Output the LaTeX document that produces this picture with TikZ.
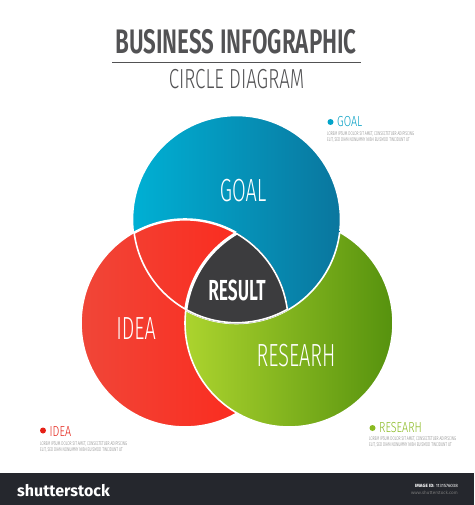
\documentclass[tikz,border=0pt]{standalone}
\usepackage{fontspec}
\setmainfont{Fira Sans}
\newfontfamily\thinfont[FakeStretch=0.62]{Fira Sans Light}
\newfontfamily\widethinfont[FakeStretch=0.68]{Fira Sans Light}
\newfontfamily\keyfont[FakeStretch=0.74]{Fira Sans Light}
\newfontfamily\heavyfont[FakeStretch=0.6]{Fira Sans SemiBold}
\newfontfamily\titlefont[FakeStretch=0.66]{Fira Sans SemiBold}
\definecolor{goalL}{RGB}{0,176,212}
\definecolor{goalR}{RGB}{10,118,158}
\definecolor{ideaL}{RGB}{240,70,56}
\definecolor{ideaR}{RGB}{254,36,24}
\definecolor{resL}{RGB}{172,212,46}
\definecolor{resR}{RGB}{86,146,14}
\definecolor{core}{RGB}{60,60,62}
\definecolor{titlegray}{RGB}{82,82,84}
\definecolor{loremgray}{RGB}{120,120,120}
\definecolor{bar}{RGB}{37,39,45}
\newcommand{\rad}{104}
\newcommand{\loremtext}{LOREM IPSUM DOLOR SIT AMET, CONSECTETUER ADIPISCING\\ELIT, SED DIAM NONUMMY NIBH EUISMOD TINCIDUNT UT}
\begin{document}
\begin{tikzpicture}[x=1pt,y=-1pt,
  circlelabel/.style={text=white,inner sep=0pt,font=\thinfont\fontsize{32}{32}\selectfont},
  whiteedge/.style={draw=white,line width=1.6pt},
  legendtitle/.style={anchor=west,inner sep=0pt,font=\keyfont\fontsize{14.5}{14.5}\selectfont},
  legenddot/.style={circle,inner sep=0pt,minimum size=6pt},
  loremlines/.style={anchor=north west,inner sep=0pt,align=left,text=loremgray,font=\thinfont\fontsize{5.4}{6.2}\selectfont}]
\useasboundingbox (0,0) rectangle (474,505);
\fill[white] (0,0) rectangle (474,505);
% centres of the three circles
\coordinate (goal) at (236.5,219.5);
\coordinate (idea) at (185,323);
\coordinate (research) at (289,323);
% title
\node[text=titlegray,font=\titlefont\fontsize{34}{34}\selectfont] (title) at (236,41.5) {BUSINESS INFOGRAPHIC};
\draw[titlegray,line width=0.9pt] (112,62) -- (361,62);
\node[text=titlegray,font=\widethinfont\fontsize{27.5}{27.5}\selectfont] (subtitle) at (236.5,79.5) {CIRCLE DIAGRAM};
% circles
\shade[left color=goalL,right color=goalR] (goal) circle[radius=\rad];
\draw[whiteedge] (goal) circle[radius=\rad];
\shade[left color=ideaL,right color=ideaR] (idea) circle[radius=\rad];
\draw[whiteedge] (idea) circle[radius=\rad];
\shade[left color=resL,right color=resR] (research) circle[radius=\rad];
\begin{scope}[even odd rule]
\clip (0,0) rectangle (474,505) (goal) circle[radius=\rad];
\draw[whiteedge] (research) circle[radius=\rad];
\end{scope}
\begin{scope}
\clip (research) circle[radius=\rad+1];
\begin{scope}[even odd rule]
\clip (0,0) rectangle (474,505) (idea) circle[radius=\rad-2];
\shade[left color=goalL,right color=goalR] (goal) circle[radius=\rad];
\end{scope}
\end{scope}
\begin{scope}
\clip (research) circle[radius=\rad];
\draw[whiteedge] (goal) circle[radius=\rad];
\end{scope}
% centre part
\begin{scope}
\clip (goal) circle[radius=\rad];
\clip (idea) circle[radius=\rad];
\fill[core] (research) circle[radius=\rad];
\draw[white,line width=3.2pt] (goal) circle[radius=\rad] (idea) circle[radius=\rad] (research) circle[radius=\rad];
\end{scope}
\node[circlelabel] (goallabel) at (243,191) {GOAL};
\node[circlelabel] (idealabel) at (136,329) {IDEA};
\node[circlelabel] (researchlabel) at (296,355.5) {RESEARH};
\node[text=white,inner sep=0pt,font=\heavyfont\fontsize{29}{29}\selectfont] (result) at (237,290) {RESULT};
% legend
\node[legenddot,fill=goalL!80!goalR] (goaldot) at (330.5,122) {};
\node[legendtitle,text=goalL!70!goalR] (goalkey) at (337,122) {GOAL};
\node[loremlines] (goallorem) at (327,131.5) {\loremtext};
\node[legenddot,fill=ideaR!90!black] (ideadot) at (43,430.5) {};
\node[legendtitle,text=ideaR!90!black] (ideakey) at (49.5,431.5) {IDEA};
\node[loremlines] (idealorem) at (40,441.5) {\loremtext};
\node[legenddot,fill=resL!60!resR] (researchdot) at (372.5,428) {};
\node[legendtitle,text=resL!60!resR] (researchkey) at (379,428) {RESEARH};
\node[loremlines] (researchlorem) at (369,436.5) {\loremtext};
% bottom bar
\fill[bar] (0,473) rectangle (474,505);
\node[anchor=west,inner sep=0pt,text=white,font=\bfseries\fontsize{16}{16}\selectfont] (brand) at (17,490.5) {shutterstock};
\node[anchor=east,inner sep=0pt,text=white,font=\fontsize{4.6}{5}\selectfont] (imageid) at (458,485.5) {\textbf{IMAGE ID:} 1131576038};
\node[anchor=east,inner sep=0pt,text=loremgray,font=\fontsize{4.6}{5}\selectfont] (site) at (458,492.5) {www.shutterstock.com};
\end{tikzpicture}
\end{document}
